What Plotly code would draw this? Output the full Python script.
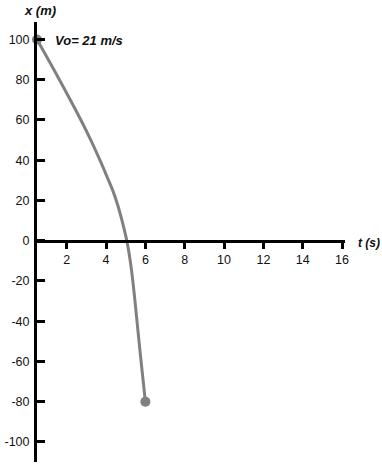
import plotly.graph_objects as go

# Data
t_vals = [0.49, 1.63, 2.72, 3.25, 3.69, 4.05, 4.36, 4.6, 4.8, 5.0, 5.15, 5.3, 5.45, 5.6, 5.75, 6.0]
x_vals = [100, 80, 60, 49.5, 40, 31.8, 24.5, 17.5, 10.5, 2.5, -5, -15, -28, -42.5, -57, -80]
x_ticks = [2, 4, 6, 8, 10, 12, 14, 16]
y_ticks = [-100, -80, -60, -40, -20, 0, 20, 40, 60, 80, 100]

y_range = [-110, 108.7]
x_range = [0.49, 16.15]
GRAY = "#808080"
FONT = "Liberation Sans, Arial, sans-serif"

fig = go.Figure()
fig.add_trace(go.Scatter(
    x=t_vals, y=x_vals, mode="lines",
    line=dict(color=GRAY, width=3, shape="spline", smoothing=1.0),
    hoverinfo="skip", showlegend=False,
))
fig.add_trace(go.Scatter(
    x=[t_vals[0], t_vals[-1]], y=[x_vals[0], x_vals[-1]], mode="markers",
    marker=dict(color=GRAY, size=10),
    hoverinfo="skip", showlegend=False, cliponaxis=False,
))

zero_pos = (0 - y_range[0]) / (y_range[1] - y_range[0])

fig.update_layout(
    width=382, height=466,
    margin=dict(l=35, r=37, t=22, b=4),
    paper_bgcolor="white", plot_bgcolor="white",
    font=dict(family=FONT, size=12.5, color="#111111"),
    xaxis=dict(
        range=x_range, anchor="free", position=zero_pos,
        tickvals=x_ticks, ticktext=[str(v) for v in x_ticks],
        showgrid=False, zeroline=False,
        showline=True, linecolor="black", linewidth=3,
        ticks="outside", ticklen=6, tickwidth=3, tickcolor="black",
        tickfont=dict(family=FONT, size=12.5, color="#111111"),
    ),
    yaxis=dict(
        range=y_range, tickvals=y_ticks, ticktext=[str(v) for v in y_ticks],
        showgrid=False, zeroline=False,
        showline=True, linecolor="black", linewidth=3,
        ticks="inside", ticklen=8, tickwidth=3, tickcolor="black",
        ticklabelstandoff=2,
        tickfont=dict(family=FONT, size=12.5, color="#111111"),
    ),
    annotations=[
        dict(text="<b><i>x (m)</i></b>", xref="paper", yref="paper",
             x=0, y=1.0, xanchor="center", yanchor="bottom", xshift=3, yshift=2,
             showarrow=False, font=dict(family=FONT, size=13, color="#111111")),
        dict(text="<b><i>t (s)</i></b>", xref="paper", yref="y",
             x=1.0, y=0, xanchor="left", yanchor="middle", xshift=11, yshift=-2,
             showarrow=False, font=dict(family=FONT, size=12, color="#111111")),
        dict(text="<b><i>Vo= 21 m/s</i></b>", xref="x", yref="y",
             x=t_vals[0], y=x_vals[0], xanchor="left", yanchor="middle", xshift=16, yshift=-1,
             showarrow=False, font=dict(family=FONT, size=13, color="#111111")),
    ],
)

fig.write_html("out.html")
